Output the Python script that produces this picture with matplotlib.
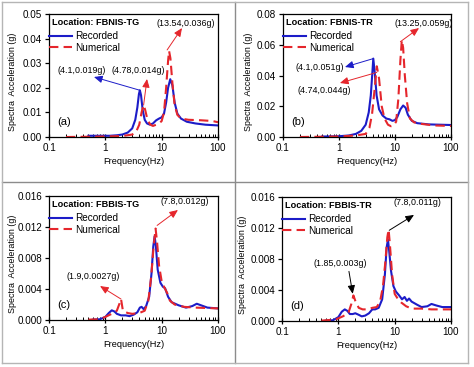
import numpy as np
import matplotlib.pyplot as plt
from matplotlib.lines import Line2D
from matplotlib.ticker import LogLocator, NullFormatter, FixedLocator

plt.rcParams['font.family'] = ['Liberation Sans', 'DejaVu Sans']

# data (frequency in Hz, spectral acceleration in g)
a_rec_f = [0.5, 0.8, 1.2, 1.6, 2.0, 2.5, 3.0, 3.4, 3.7, 3.95, 4.1, 4.3, 4.6, 5.0, 5.5, 6.2, 7.0, 8.0, 9.0, 10.0,
           11.0, 12.0, 13.0, 14.2, 15.5, 17, 19, 22, 28, 40, 60, 100]
a_rec_v = [0.0005, 0.0005, 0.0005, 0.0007, 0.001, 0.0018, 0.0035, 0.007, 0.012, 0.0175, 0.019, 0.017, 0.011, 0.007,
           0.0055, 0.005, 0.0055, 0.0068, 0.0075, 0.008, 0.0095, 0.014, 0.02, 0.0235, 0.021, 0.014, 0.0095, 0.0075,
           0.0062, 0.0055, 0.005, 0.0047]
a_num_f = [0.2, 0.5, 1, 2, 3, 3.5, 4.0, 4.4, 4.78, 5.1, 5.6, 6.3, 7.0, 8, 9, 10, 11, 12, 13.0, 13.54, 14.3, 15.5, 17,
           19, 22, 30, 50, 80, 100]
a_num_v = [0.0, 0.0001, 0.0002, 0.0004, 0.001, 0.002, 0.005, 0.01, 0.013, 0.011, 0.007, 0.005, 0.0045, 0.005, 0.0055,
           0.0065, 0.01, 0.02, 0.031, 0.035, 0.032, 0.022, 0.013, 0.009, 0.0075, 0.007, 0.0068, 0.0065, 0.006]

b_rec_f = [0.5, 1.0, 1.5, 2.0, 2.5, 3.0, 3.4, 3.7, 3.95, 4.1, 4.35, 4.7, 5.2, 6, 7, 8, 9, 10, 11, 12.5, 14, 15.5, 17,
           20, 25, 40, 100]
b_rec_v = [0.0003, 0.0005, 0.001, 0.002, 0.004, 0.008, 0.016, 0.027, 0.042, 0.051, 0.042, 0.027, 0.018, 0.014, 0.012,
           0.0115, 0.0105, 0.011, 0.013, 0.018, 0.0205, 0.019, 0.0145, 0.0105, 0.009, 0.0082, 0.0078]
b_num_f = [0.2, 1, 2, 3, 3.5, 3.9, 4.3, 4.74, 5.2, 5.8, 6.5, 7.5, 8.5, 9.5, 10.5, 11.5, 12.5, 13.25, 14, 15, 16.5,
           18.5, 22, 30, 50, 100]
b_num_v = [0.0, 0.0003, 0.001, 0.002, 0.006, 0.015, 0.03, 0.046, 0.038, 0.02, 0.012, 0.008, 0.007, 0.0075, 0.01,
           0.025, 0.05, 0.063, 0.058, 0.04, 0.022, 0.012, 0.0095, 0.0085, 0.0075, 0.0072]

c_rec_f = [0.6, 0.8, 1.0, 1.15, 1.3, 1.45, 1.6, 1.9, 2.3, 2.7, 3.2, 3.7, 4.1, 4.4, 4.8, 5.3, 6, 6.6, 7.1, 7.5, 7.9,
           8.5, 9.5, 10.5, 11.5, 13, 15, 20, 27, 35, 42, 50, 65, 100]
c_rec_v = [0.00005, 0.0001, 0.0004, 0.0009, 0.00125, 0.0011, 0.0008, 0.0006, 0.0006, 0.0005, 0.0007, 0.001, 0.0016,
           0.0017, 0.0014, 0.0018, 0.003, 0.006, 0.0095, 0.0108, 0.0095, 0.0065, 0.0048, 0.0043, 0.0041, 0.003,
           0.0023, 0.0019, 0.0016, 0.0018, 0.0021, 0.0019, 0.0016, 0.0015]
c_num_f = [0.5, 0.8, 1.0, 1.3, 1.6, 1.8, 1.9, 2.05, 2.5, 3, 4, 5, 5.8, 6.5, 7.2, 7.8, 8.3, 9, 10, 11, 12.5, 14, 17,
           25, 40, 100]
c_num_v = [0.00005, 0.0001, 0.0004, 0.0008, 0.0012, 0.0022, 0.0027, 0.0012, 0.0009, 0.0008, 0.0009, 0.0012, 0.0025,
           0.0055, 0.0095, 0.0118, 0.01, 0.007, 0.005, 0.0043, 0.0035, 0.0025, 0.002, 0.0017, 0.0016, 0.0015]

d_rec_f = [0.6, 0.8, 1.0, 1.15, 1.3, 1.45, 1.6, 1.8, 2.0, 2.3, 2.6, 3.0, 3.5, 4.0, 4.5, 5.2, 6, 6.7, 7.2, 7.6, 8.0,
           8.6, 9.5, 10.5, 12, 13.5, 15, 16.5, 18, 20, 25, 30, 38, 45, 55, 70, 100]
d_rec_v = [0.00005, 0.0001, 0.0005, 0.0012, 0.0015, 0.0013, 0.0009, 0.0009, 0.001, 0.0008, 0.0006, 0.0007, 0.001,
           0.0015, 0.0015, 0.0017, 0.0028, 0.006, 0.0095, 0.0105, 0.009, 0.0065, 0.0045, 0.0038, 0.0033, 0.0028,
           0.0031, 0.0026, 0.0029, 0.0025, 0.0021, 0.0018, 0.0019, 0.0022, 0.002, 0.0018, 0.0018]
d_num_f = [0.5, 0.9, 1.2, 1.5, 1.7, 1.85, 2.0, 2.3, 2.7, 3.3, 4.0, 4.8, 5.5, 6.2, 6.8, 7.4, 7.8, 8.2, 9, 10, 11.5,
           13, 16, 20, 30, 45, 100]
d_num_v = [0.00005, 0.0002, 0.0006, 0.001, 0.0022, 0.0033, 0.0026, 0.0017, 0.0015, 0.0015, 0.0017, 0.0018, 0.0025,
           0.0045, 0.0075, 0.0108, 0.0118, 0.01, 0.006, 0.0035, 0.0028, 0.0024, 0.0019, 0.0016, 0.0016, 0.0015,
           0.0015]

locations = ['Location: FBNIS-TG', 'Location: FBNIS-TR', 'Location: FBBIS-TG', 'Location: FBBIS-TR']
panel_tags = ['(a)', '(b)', '(c)', '(d)']
y_max = [0.05, 0.08, 0.016, 0.016]
y_step = [0.01, 0.02, 0.004, 0.004]
y_fmt = ['%.2f', '%.2f', '%.3f', '%.3f']

BLUE = '#1c1cc8'
RED = '#e5262c'

fig = plt.figure(figsize=(4.74, 3.67), dpi=100)

# axes boxes [left, bottom, width, height] in figure fractions
boxes = [[0.1034, 0.6267, 0.3565, 0.3351],
         [0.5970, 0.6267, 0.3544, 0.3351],
         [0.1034, 0.1280, 0.3565, 0.3380],
         [0.5950, 0.1253, 0.3565, 0.3380]]
ylab_x = [-0.19, -0.18, -0.19, -0.21]

series = [(a_rec_f, a_rec_v, a_num_f, a_num_v),
          (b_rec_f, b_rec_v, b_num_f, b_num_v),
          (c_rec_f, c_rec_v, c_num_f, c_num_v),
          (d_rec_f, d_rec_v, d_num_f, d_num_v)]

axes = []
for i in range(4):
    ax = fig.add_axes(boxes[i])
    axes.append(ax)
    rf, rv, nf, nv = series[i]
    ax.plot(rf, rv, color=BLUE, lw=1.5, label='Recorded')
    ax.plot(nf, nv, color=RED, lw=1.5, ls=(0, (4.5, 2.5)), label='Numerical')
    ax.set_xscale('log')
    ax.set_xlim(0.1, 100)
    ax.set_ylim(0, y_max[i])
    ax.set_xticks([0.1, 1, 10, 100])
    ax.set_xticklabels(['0.1', '1', '10', '100'])
    ax.xaxis.set_minor_locator(LogLocator(base=10, subs=np.arange(2, 10)))
    ax.xaxis.set_minor_formatter(NullFormatter())
    yt = np.arange(0, y_max[i] + y_step[i] / 2, y_step[i])
    ax.yaxis.set_major_locator(FixedLocator(yt))
    ax.set_yticklabels([y_fmt[i] % v for v in yt])
    ax.tick_params(axis='x', which='major', direction='inout', length=5, width=0.9, labelsize=7.1, pad=2)
    ax.tick_params(axis='x', which='minor', direction='in', length=2.5, width=0.7)
    ax.tick_params(axis='y', which='major', direction='out', length=3, width=0.9, labelsize=7.1, pad=2)
    for s in ax.spines.values():
        s.set_linewidth(0.9)
    ax.set_xlabel('Frequency(Hz)', fontsize=6.7, labelpad=3)
    ax.set_ylabel('Spectra  Acceleration (g)', fontsize=6.4)
    ax.yaxis.set_label_coords(ylab_x[i], 0.45)
    ax.text(0.018, 0.93, locations[i], transform=ax.transAxes, fontsize=6.6, fontweight='bold', va='center')
    ax.legend(loc='upper left', bbox_to_anchor=(0.0, 0.86), frameon=False, fontsize=7.2,
              handlelength=2.3, handletextpad=0.3, labelspacing=0.15, borderpad=0, borderaxespad=0)
    ax.text(0.05, 0.12, panel_tags[i], transform=ax.transAxes, fontsize=8, va='center')


def note(ax, label, txt_pos, head, tail, color):
    ax.text(txt_pos[0], txt_pos[1], label, transform=ax.transAxes, fontsize=6.4, ha='center', va='center')
    ax.annotate('', xy=head, xycoords='axes fraction', xytext=tail, textcoords='data',
                arrowprops=dict(arrowstyle='-|>,head_length=0.5,head_width=0.22', color=color, lw=0.7,
                                shrinkA=0, shrinkB=0))


note(axes[0], '(4.1,0.019g)', (0.195, 0.54), (0.266, 0.488), (4.1, 0.019), BLUE)
note(axes[0], '(4.78,0.014g)', (0.527, 0.54), (0.58, 0.472), (4.78, 0.013), RED)
note(axes[0], '(13.54,0.036g)', (0.81, 0.92), (0.787, 0.886), (12.5, 0.0354), RED)

note(axes[1], '(4.1,0.051g)', (0.22, 0.569), (0.369, 0.569), (4.1, 0.051), BLUE)
note(axes[1], '(4.74,0.044g)', (0.244, 0.382), (0.339, 0.439), (4.74, 0.042), RED)
note(axes[1], '(13.25,0.059g)', (0.839, 0.92), (0.81, 0.886), (12.5, 0.062), RED)

note(axes[2], '(1.9,0.0027g)', (0.26, 0.347), (0.302, 0.274), (1.9, 0.0027), RED)
note(axes[2], '(7.8,0.012g)', (0.805, 0.952), (0.763, 0.887), (8.3, 0.0122), RED)

# panel (d): arrow from the label down to the peak
axes[3].text(0.343, 0.46, '(1.85,0.003g)', transform=axes[3].transAxes, fontsize=6.4, ha='center', va='center')
axes[3].annotate('', xy=(1.8, 0.0035), xycoords='data', xytext=(0.396, 0.40), textcoords='axes fraction',
                 arrowprops=dict(arrowstyle='-|>,head_length=0.5,head_width=0.22', color='black', lw=0.7,
                                 shrinkA=0, shrinkB=0))
note(axes[3], '(7.8,0.011g)', (0.80, 0.952), (0.781, 0.855), (8.0, 0.0117), 'black')

# grey frames around the four panels
frame = dict(color='#8c8c8c', lw=1.0)
fig.add_artist(Line2D([0.496, 0.496], [0.011, 0.995], transform=fig.transFigure, **frame))
fig.add_artist(Line2D([0.004, 0.987], [0.504, 0.504], transform=fig.transFigure, **frame))
light = dict(color='#b5b5b5', lw=1.0)
fig.add_artist(Line2D([0.004, 0.004], [0.011, 0.995], transform=fig.transFigure, **light))
fig.add_artist(Line2D([0.987, 0.987], [0.011, 0.995], transform=fig.transFigure, **light))
fig.add_artist(Line2D([0.004, 0.987], [0.011, 0.011], transform=fig.transFigure, **light))
fig.add_artist(Line2D([0.004, 0.987], [0.995, 0.995], transform=fig.transFigure, **light))

fig.savefig('out.png', dpi=100)
